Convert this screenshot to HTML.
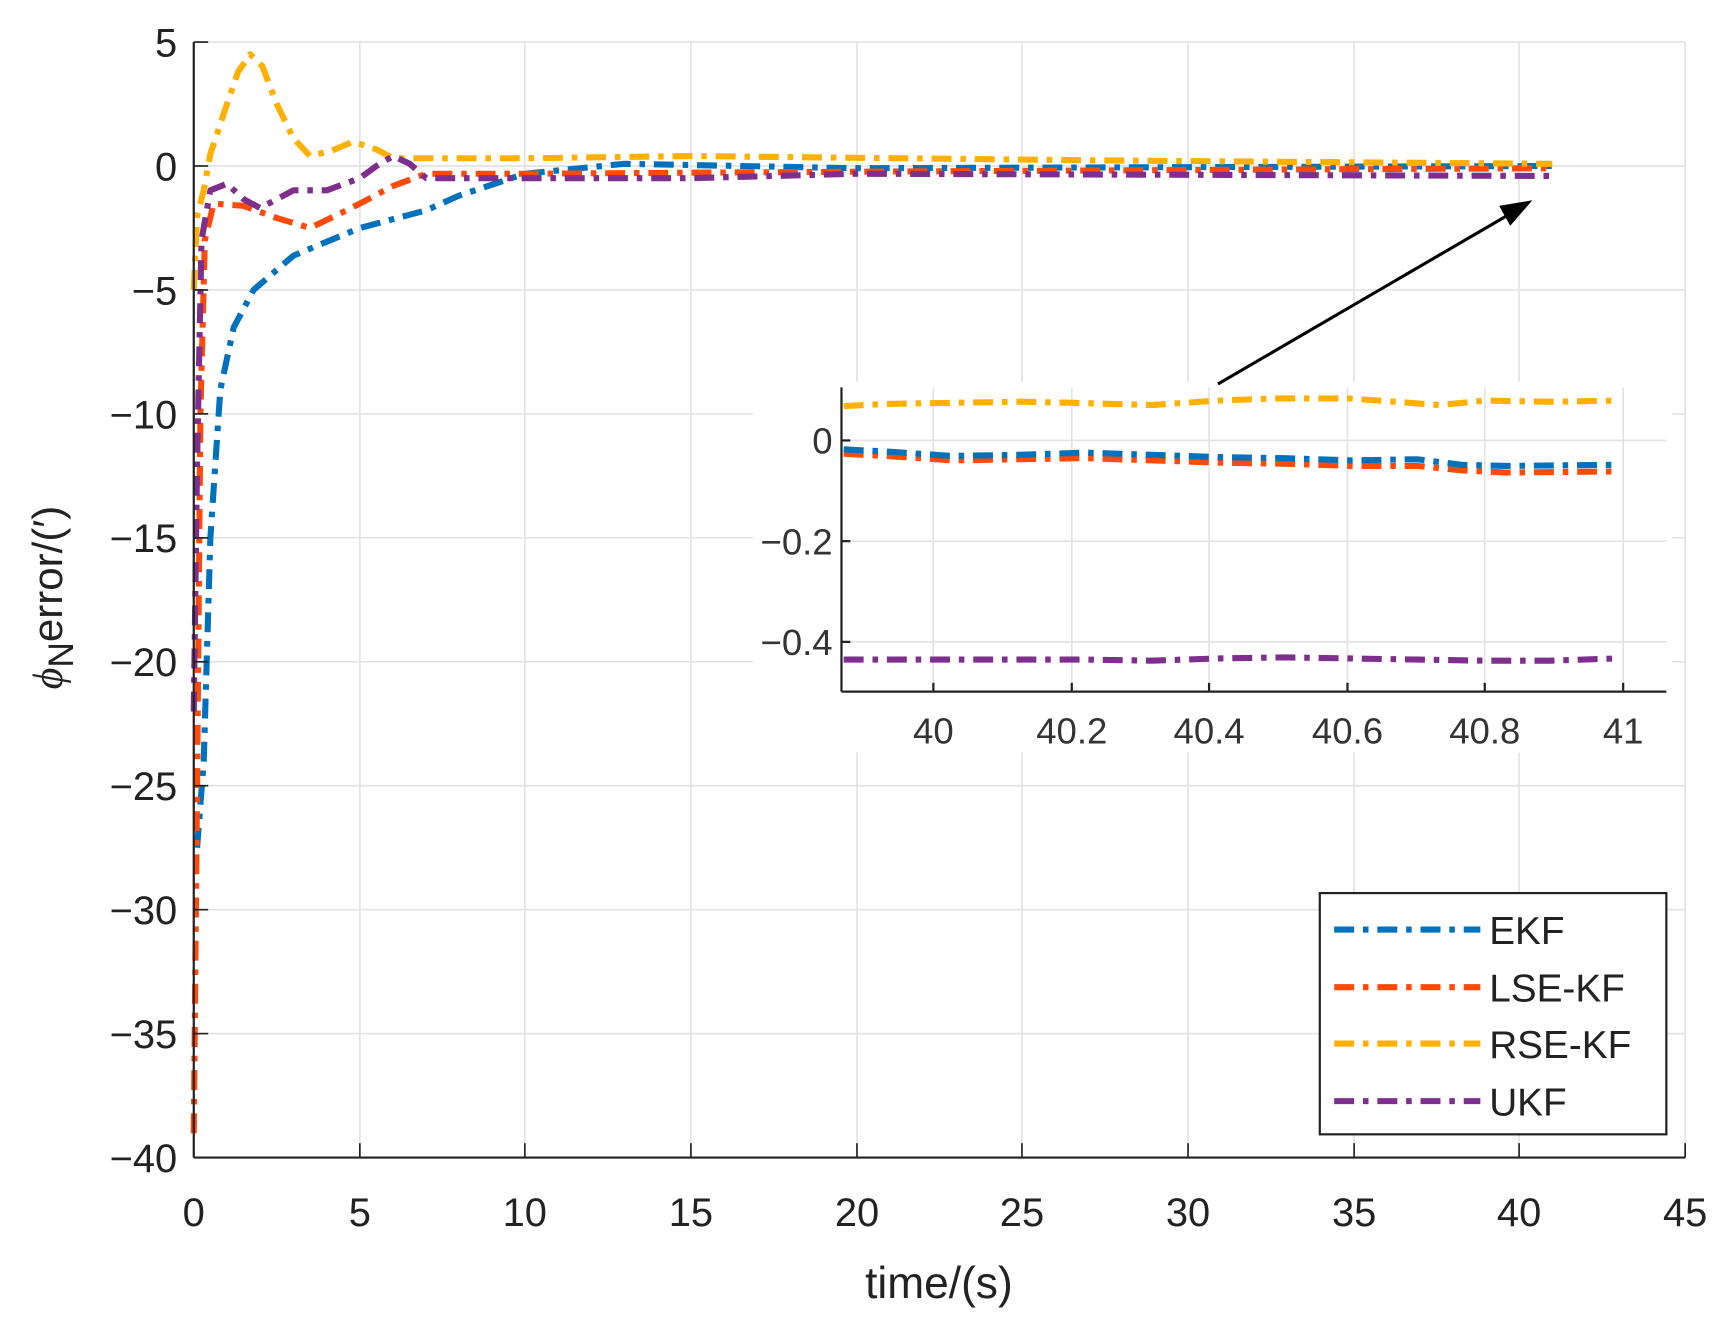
<!DOCTYPE html>
<html><head><style>html,body{margin:0;padding:0;background:#fff}svg{display:block}</style></head>
<body>
<svg width="1735" height="1328" viewBox="0 0 1567 1200" preserveAspectRatio="none" xmlns="http://www.w3.org/2000/svg" font-family="Liberation Sans, Arial, sans-serif">
<rect width="1567" height="1200" fill="#fff"/>
<g stroke="#e3e3e3" stroke-width="1.5">
<line x1="325" y1="38" x2="325" y2="1046"/><line x1="474" y1="38" x2="474" y2="1046"/><line x1="624" y1="38" x2="624" y2="1046"/><line x1="774" y1="38" x2="774" y2="1046"/><line x1="923" y1="38" x2="923" y2="1046"/><line x1="1073" y1="38" x2="1073" y2="1046"/><line x1="1223" y1="38" x2="1223" y2="1046"/><line x1="1372" y1="38" x2="1372" y2="1046"/>
<line x1="175" y1="150" x2="1522" y2="150"/><line x1="175" y1="262" x2="1522" y2="262"/><line x1="175" y1="374" x2="1522" y2="374"/><line x1="175" y1="486" x2="1522" y2="486"/><line x1="175" y1="598" x2="1522" y2="598"/><line x1="175" y1="710" x2="1522" y2="710"/><line x1="175" y1="822" x2="1522" y2="822"/><line x1="175" y1="934" x2="1522" y2="934"/>
<line x1="175" y1="38" x2="1522" y2="38"/><line x1="1522" y1="38" x2="1522" y2="1046"/>
</g>
<g fill="none" stroke-width="5.5" stroke-dasharray="18 8 5 8" stroke-linejoin="round">
<polyline stroke="#0072BD" points="178,766 184,688 190,486 199,352 211,296 229,262 265,231 325,206 385,190 414,177 474,157 564,148 774,152 1402,150"/>
<polyline stroke="#FF4A0A" points="175,1024 178,710 181,374 185,217 193,184 220,186 250,197 280,206 305,194 325,184 355,168 385,157 474,157 800,155 1402,152"/>
<polyline stroke="#FFB000" points="175,262 178,195 184,172 190,139 205,94 215,65 226,49 237,60 250,94 265,125 280,141 300,136 319,128 340,135 355,143 474,143 624,141 1000,145 1402,148"/>
<polyline stroke="#7E2F8E" points="175,643 178,419 182,217 190,172 205,166 220,180 235,188 250,180 265,172 295,172 325,161 340,150 355,141 370,148 385,161 474,161 624,161 774,157 1402,159"/>
</g>
<g stroke="#222" stroke-width="2">
<line x1="175" y1="38" x2="175" y2="1046"/><line x1="175" y1="1046" x2="1522" y2="1046"/>
<g stroke-width="1.5">
<line x1="175" y1="38" x2="188" y2="38"/><line x1="175" y1="150" x2="188" y2="150"/><line x1="175" y1="262" x2="188" y2="262"/><line x1="175" y1="374" x2="188" y2="374"/><line x1="175" y1="486" x2="188" y2="486"/><line x1="175" y1="598" x2="188" y2="598"/><line x1="175" y1="710" x2="188" y2="710"/><line x1="175" y1="822" x2="188" y2="822"/><line x1="175" y1="934" x2="188" y2="934"/>
<line x1="325" y1="1046" x2="325" y2="1033"/><line x1="474" y1="1046" x2="474" y2="1033"/><line x1="624" y1="1046" x2="624" y2="1033"/><line x1="774" y1="1046" x2="774" y2="1033"/><line x1="923" y1="1046" x2="923" y2="1033"/><line x1="1073" y1="1046" x2="1073" y2="1033"/><line x1="1223" y1="1046" x2="1223" y2="1033"/><line x1="1372" y1="1046" x2="1372" y2="1033"/><line x1="1522" y1="1046" x2="1522" y2="1033"/>
</g></g>
<g font-size="36" fill="#222" text-anchor="end">
<text x="160" y="51">5</text><text x="160" y="163">0</text><text x="160" y="275">−5</text><text x="160" y="387">−10</text><text x="160" y="499">−15</text><text x="160" y="611">−20</text><text x="160" y="723">−25</text><text x="160" y="835">−30</text><text x="160" y="947">−35</text><text x="160" y="1059">−40</text>
</g>
<g font-size="36" fill="#222" text-anchor="middle">
<text x="175" y="1108">0</text><text x="325" y="1108">5</text><text x="474" y="1108">10</text><text x="624" y="1108">15</text><text x="774" y="1108">20</text><text x="923" y="1108">25</text><text x="1073" y="1108">30</text><text x="1223" y="1108">35</text><text x="1372" y="1108">40</text><text x="1522" y="1108">45</text>
<text x="848" y="1173" font-size="40">time/(s)</text>
</g>
<text transform="translate(56,540) rotate(-90)" text-anchor="middle" font-size="38" fill="#222"><tspan font-style="italic" font-family="Liberation Serif, serif">ϕ</tspan><tspan font-size="32" dy="10">N</tspan><tspan dy="-10">error/(′)</tspan></text>
<!-- inset -->
<rect x="680" y="345" width="830" height="335" fill="#fff"/>
<g stroke="#e3e3e3" stroke-width="1.5">
<line x1="843" y1="350" x2="843" y2="625"/><line x1="968" y1="350" x2="968" y2="625"/><line x1="1092" y1="350" x2="1092" y2="625"/><line x1="1217" y1="350" x2="1217" y2="625"/><line x1="1341" y1="350" x2="1341" y2="625"/><line x1="1466" y1="350" x2="1466" y2="625"/>
<line x1="760" y1="398" x2="1505" y2="398"/><line x1="760" y1="489" x2="1505" y2="489"/><line x1="760" y1="580" x2="1505" y2="580"/>
</g>
<g fill="none" stroke-width="5.5" stroke-dasharray="18 8 5 8">
<polyline stroke="#FFB000" points="762,367 800,365 860,364 920,363 970,364 1040,366 1100,362 1150,360 1217,360 1260,363 1300,366 1341,362 1400,363 1460,362"/>
<polyline stroke="#FF4A0A" points="762,410 800,412 860,416 920,415 980,414 1040,416 1100,418 1160,419 1220,421 1280,421 1320,425 1360,427 1460,426"/>
<polyline stroke="#0072BD" points="762,406 800,408 860,412 920,411 980,409 1040,411 1100,413 1160,414 1220,416 1280,415 1320,420 1360,421 1460,420"/>
<polyline stroke="#7E2F8E" points="762,596 820,596 900,596 980,596 1040,597 1100,595 1160,594 1220,595 1280,596 1341,597 1400,597 1460,595"/>
</g>
<g stroke="#222" stroke-width="2">
<line x1="760" y1="350" x2="760" y2="625"/><line x1="760" y1="625" x2="1505" y2="625"/>
<line x1="843" y1="625" x2="843" y2="617"/><line x1="968" y1="625" x2="968" y2="617"/><line x1="1092" y1="625" x2="1092" y2="617"/><line x1="1217" y1="625" x2="1217" y2="617"/><line x1="1341" y1="625" x2="1341" y2="617"/><line x1="1466" y1="625" x2="1466" y2="617"/>
<line x1="760" y1="398" x2="768" y2="398"/><line x1="760" y1="489" x2="768" y2="489"/><line x1="760" y1="580" x2="768" y2="580"/>
</g>
<g font-size="33" fill="#333" text-anchor="end">
<text x="752" y="410">0</text><text x="752" y="501">−0.2</text><text x="752" y="592">−0.4</text>
</g>
<g font-size="33" fill="#333" text-anchor="middle">
<text x="843" y="672">40</text><text x="968" y="672">40.2</text><text x="1092" y="672">40.4</text><text x="1217" y="672">40.6</text><text x="1341" y="672">40.8</text><text x="1466" y="672">41</text>
</g>
<line x1="1100" y1="347" x2="1366" y2="192" stroke="#000" stroke-width="2.8"/>
<polygon points="1384,181 1354,186 1364,204" fill="#000"/>
<rect x="1192" y="807" width="313" height="218" fill="#fff" stroke="#222" stroke-width="2"/>
<g fill="none" stroke-width="5.5" stroke-dasharray="18 8 5 8">
<line x1="1205" y1="840" x2="1337" y2="840" stroke="#0072BD"/>
<line x1="1205" y1="892" x2="1337" y2="892" stroke="#FF4A0A"/>
<line x1="1205" y1="943" x2="1337" y2="943" stroke="#FFB000"/>
<line x1="1205" y1="995" x2="1337" y2="995" stroke="#7E2F8E"/>
</g>
<g font-size="35" fill="#222">
<text x="1345" y="853">EKF</text><text x="1345" y="905">LSE-KF</text><text x="1345" y="956">RSE-KF</text><text x="1345" y="1008">UKF</text>
</g>
</svg>
</body></html>
